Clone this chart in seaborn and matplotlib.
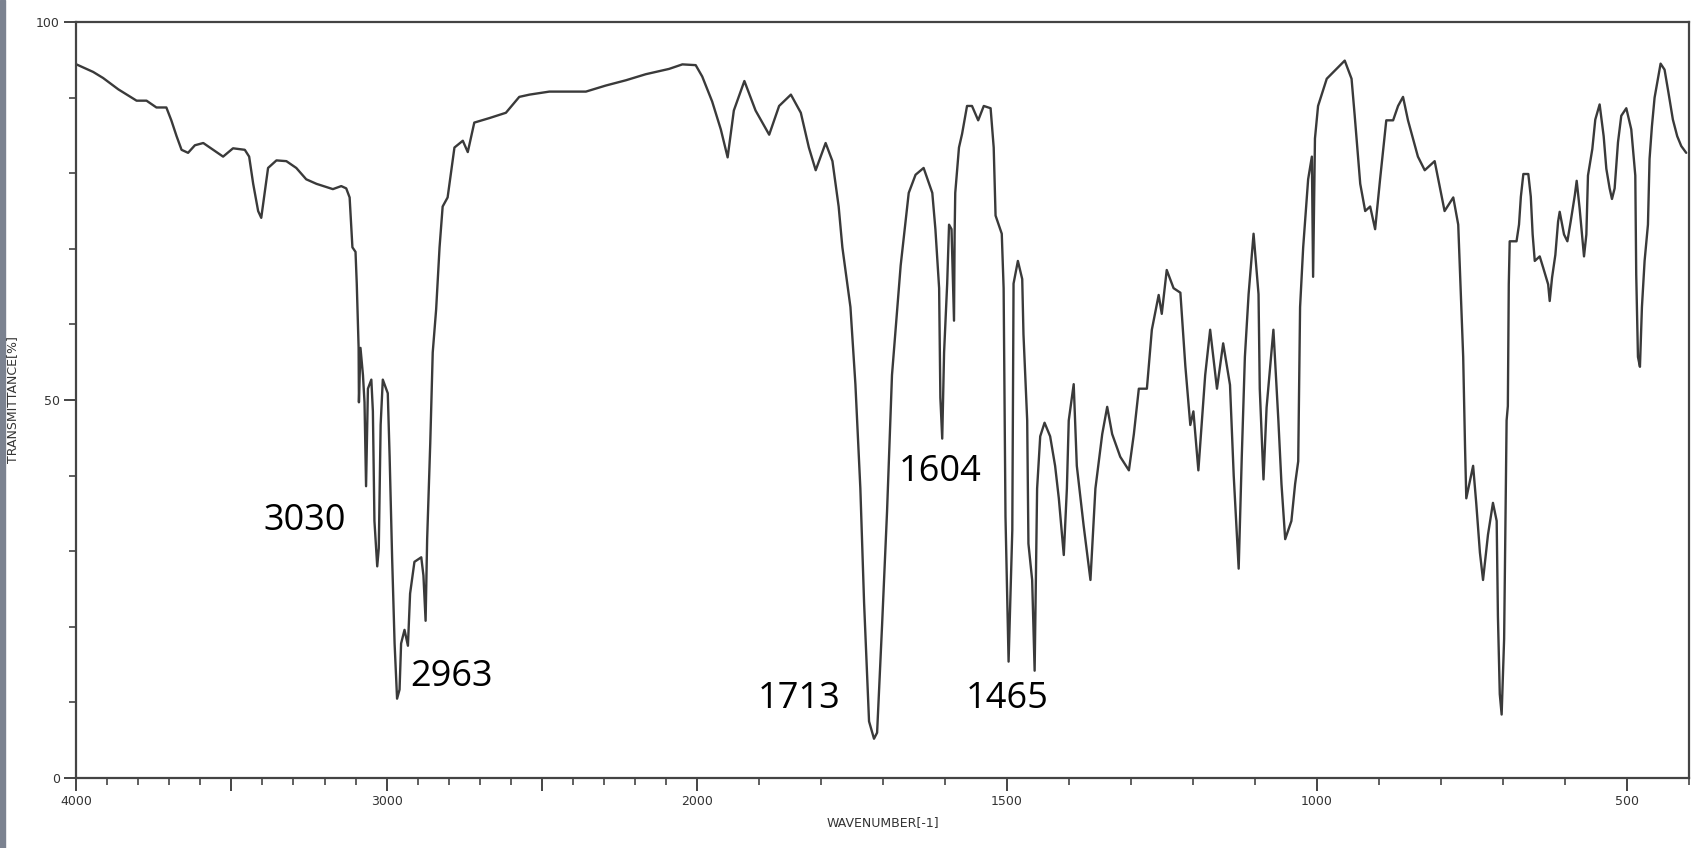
import numpy as np
import pandas as pd
import matplotlib
matplotlib.use("Agg")
import matplotlib.pyplot as plt
import seaborn as sns
from matplotlib.patches import Rectangle

sns.set_theme(style="white")
plt.rcParams['font.family'] = ['DejaVu Sans']

wavenumber = [4000, 3946, 3914, 3865, 3806, 3774, 3742, 3710, 3694, 3677, 3661, 3640, 3618, 3591, 3559, 3527,
              3495, 3457, 3443, 3430, 3414, 3404, 3393, 3382, 3355, 3323, 3291, 3259, 3226, 3173, 3146, 3130,
              3119, 3110, 3100, 3096, 3090, 3089, 3084, 3076, 3071, 3066, 3060, 3049, 3044, 3039, 3030, 3025,
              3019, 3012, 2996, 2990, 2982, 2974, 2966, 2958, 2953, 2942, 2931, 2924, 2910, 2888, 2881, 2874,
              2869, 2859, 2851, 2840, 2829, 2819, 2803, 2781, 2754, 2738, 2717, 2668, 2615, 2572, 2539, 2475,
              2443, 2357, 2293, 2228, 2164, 2089, 2046, 2003, 1991, 1975, 1961, 1950, 1940, 1923, 1905, 1883,
              1867, 1848, 1832, 1819, 1808, 1792, 1781, 1771, 1765, 1752, 1744, 1736, 1730, 1722, 1714, 1709,
              1701, 1693, 1685, 1671, 1658, 1647, 1634, 1620, 1615, 1609, 1607, 1604, 1601, 1596, 1593, 1589,
              1585, 1584, 1583, 1577, 1572, 1564, 1556, 1546, 1537, 1526, 1521, 1518, 1513, 1508, 1505, 1502,
              1497, 1491, 1489, 1482, 1475, 1473, 1467, 1465, 1459, 1455, 1451, 1446, 1439, 1430, 1422, 1416,
              1408, 1403, 1400, 1392, 1387, 1376, 1365, 1357, 1346, 1338, 1330, 1317, 1303, 1295, 1287, 1274,
              1266, 1255, 1250, 1242, 1231, 1220, 1212, 1204, 1199, 1191, 1180, 1172, 1161, 1151, 1140, 1134,
              1126, 1121, 1116, 1110, 1102, 1094, 1092, 1086, 1081, 1070, 1062, 1057, 1051, 1041, 1035, 1030,
              1027, 1022, 1014, 1008, 1006, 1003, 998, 984, 955, 944, 939, 930, 922, 914, 906, 898,
              888, 877, 869, 861, 853, 837, 826, 810, 794, 780, 772, 769, 764, 761, 759, 748,
              743, 737, 732, 724, 716, 710, 708, 705, 702, 698, 694, 692, 690.5, 689, 678, 674,
              671, 667, 659, 655, 652, 648.6, 640.6, 635, 627, 624.5, 620.7, 615.4, 611, 608.4, 601.4, 596,
              590.7, 584, 581, 576.2, 572.4, 569.2, 565.4, 562.8, 555.8, 551, 544, 537.5, 533.2, 527.9, 524.1, 519.8,
              514.4, 509.1, 501, 493, 486.5, 485, 482.2, 479, 475.8, 471.5, 466.1, 463.5, 459.7, 455.4, 445.7, 439.3,
              432.9, 425.9, 418.9, 412.4, 404.4]
transmittance = [94.4, 93.4, 92.6, 91.1, 89.6, 89.6, 88.7, 88.7, 87.0, 84.9, 83.1, 82.7, 83.7, 84.0, 83.1, 82.2,
                 83.3, 83.1, 82.2, 78.6, 75.0, 74.1, 77.4, 80.7, 81.7, 81.6, 80.7, 79.2, 78.6, 77.9, 78.3, 78.0,
                 76.8, 70.2, 69.6, 65.4, 56.9, 49.7, 56.9, 53.3, 49.7, 38.6, 51.5, 52.7, 48.5, 34.0, 28.0, 30.4,
                 46.7, 52.7, 50.9, 42.5, 29.2, 17.8, 10.5, 11.7, 17.8, 19.6, 17.5, 24.4, 28.6, 29.2, 26.8, 20.8,
                 31.6, 44.3, 56.3, 62.0, 70.2, 75.6, 76.8, 83.4, 84.3, 82.8, 86.7, 87.3, 88.0, 90.1, 90.4, 90.8,
                 90.8, 90.8, 91.6, 92.3, 93.1, 93.8, 94.4, 94.3, 92.8, 89.5, 85.8, 82.1, 88.3, 92.2, 88.3, 85.1,
                 88.9, 90.4, 88.0, 83.4, 80.4, 84.0, 81.6, 75.6, 70.2, 62.3, 52.1, 38.3, 23.2, 7.5, 5.2, 6.0,
                 20.2, 35.2, 53.3, 67.8, 77.4, 79.8, 80.7, 77.4, 72.6, 64.8, 50.3, 44.9, 56.3, 65.4, 73.2, 72.6,
                 60.5, 72.0, 77.4, 83.4, 85.2, 88.9, 88.9, 87.0, 88.9, 88.6, 83.4, 74.4, 73.2, 72.0, 64.8, 34.6,
                 15.4, 32.8, 65.4, 68.4, 66.0, 58.7, 47.3, 31.0, 26.2, 14.2, 38.3, 45.2, 47.0, 45.2, 41.3, 37.0,
                 29.5, 38.3, 47.3, 52.1, 41.3, 33.4, 26.2, 38.3, 45.5, 49.1, 45.5, 42.5, 40.7, 45.5, 51.5, 51.5,
                 59.3, 63.9, 61.4, 67.2, 64.8, 64.2, 54.5, 46.7, 48.5, 40.7, 53.3, 59.3, 51.5, 57.5, 52.0, 40.0,
                 27.7, 42.5, 55.7, 64.0, 72.0, 64.0, 51.5, 39.5, 49.0, 59.3, 47.3, 38.9, 31.6, 34.0, 38.9, 41.9,
                 62.3, 70.2, 79.2, 82.2, 66.3, 84.6, 88.9, 92.5, 94.9, 92.5, 87.7, 78.6, 75.0, 75.6, 72.6, 79.2,
                 87.0, 87.0, 88.9, 90.1, 87.0, 82.2, 80.4, 81.6, 75.0, 76.8, 73.2, 66.6, 55.7, 43.7, 37.0, 41.3,
                 36.4, 29.8, 26.2, 32.2, 36.4, 34.0, 21.4, 11.1, 8.4, 18.4, 47.3, 49.2, 65.3, 71.0, 71.0, 73.2,
                 76.9, 79.9, 79.9, 76.9, 71.9, 68.4, 69.0, 67.5, 65.3, 63.1, 66.2, 69.2, 73.6, 74.9, 71.9, 71.0,
                 73.6, 77.1, 79.0, 75.3, 71.9, 69.0, 71.9, 79.7, 83.2, 87.1, 89.1, 84.9, 80.6, 78.0, 76.6, 78.0,
                 84.1, 87.6, 88.6, 85.8, 79.7, 66.6, 55.7, 54.4, 62.3, 68.4, 73.2, 81.9, 86.2, 90.0, 94.5, 93.7,
                 90.6, 87.1, 84.9, 83.6, 82.7]

peak_labels = ["3030", "2963", "1713", "1604", "1465"]
label_x = [3264, 2791, 1835, 1608, 1500]
label_y = [34.0, 13.4, 10.5, 40.5, 10.5]

x_major = [4000, 3500, 3000, 2500, 2000, 1500, 1000, 500]
x_major_lbl = ["4000", "", "3000", "", "2000", "1500", "1000", "500"]
y_major = [0, 50, 100]


def fwd(w):
    w = np.asarray(w, dtype=float)
    return np.where(w >= 2000, (w - 4000) / 1000.0, -2 + (w - 2000) / 500.0)


def inv(u):
    u = np.asarray(u, dtype=float)
    return np.where(u >= -2, 4000 + 1000.0 * u, 2000 + 500.0 * (u + 2))


df = pd.DataFrame({"w": wavenumber, "T": transmittance})

fig = plt.figure(figsize=(17.06, 8.48), dpi=100)
ax = fig.add_axes([0.0448, 0.0825, 0.9452, 0.8915])
ax.set_xscale("function", functions=(fwd, inv))
sns.lineplot(data=df, x="w", y="T", sort=False, estimator=None, ax=ax,
             color="#3a3a3a", linewidth=1.7)
ax.set_xlim(4000, 400)
ax.set_ylim(0, 100)

ax.set_xticks(x_major)
ax.set_xticklabels(x_major_lbl)
minor_x = [w for w in range(4000, 399, -100) if w not in x_major]
ax.set_xticks(minor_x, minor=True)
ax.set_yticks(y_major)
ax.set_yticklabels([str(v) for v in y_major])
ax.set_yticks([v for v in range(0, 101, 10) if v not in y_major], minor=True)

for s in ax.spines.values():
    s.set_color("#444444")
    s.set_linewidth(1.6)

ax.tick_params(axis="both", which="major", direction="out", length=9, width=1.4,
               color="#444444", labelsize=9, labelcolor="#333333", pad=3)
ax.tick_params(axis="both", which="minor", direction="out", length=5, width=1.2,
               color="#444444")
ax.tick_params(bottom=True, left=True, which="both")

ax.set_xlabel("WAVENUMBER[-1]", fontsize=9, color="#333333", labelpad=6)
ax.set_ylabel("TRANSMITTANCE[%]", fontsize=9, color="#333333", labelpad=12)

for t, x, y in zip(peak_labels, label_x, label_y):
    ax.text(x, y, t, fontsize=26, family=["Open Sans", "DejaVu Sans"],
            ha="center", va="center", color="black")

fig.patches.append(Rectangle((0, 0), 0.003, 1, transform=fig.transFigure,
                             color="#7b8290", zorder=0))

fig.savefig("out.png", dpi=100, facecolor="white")
